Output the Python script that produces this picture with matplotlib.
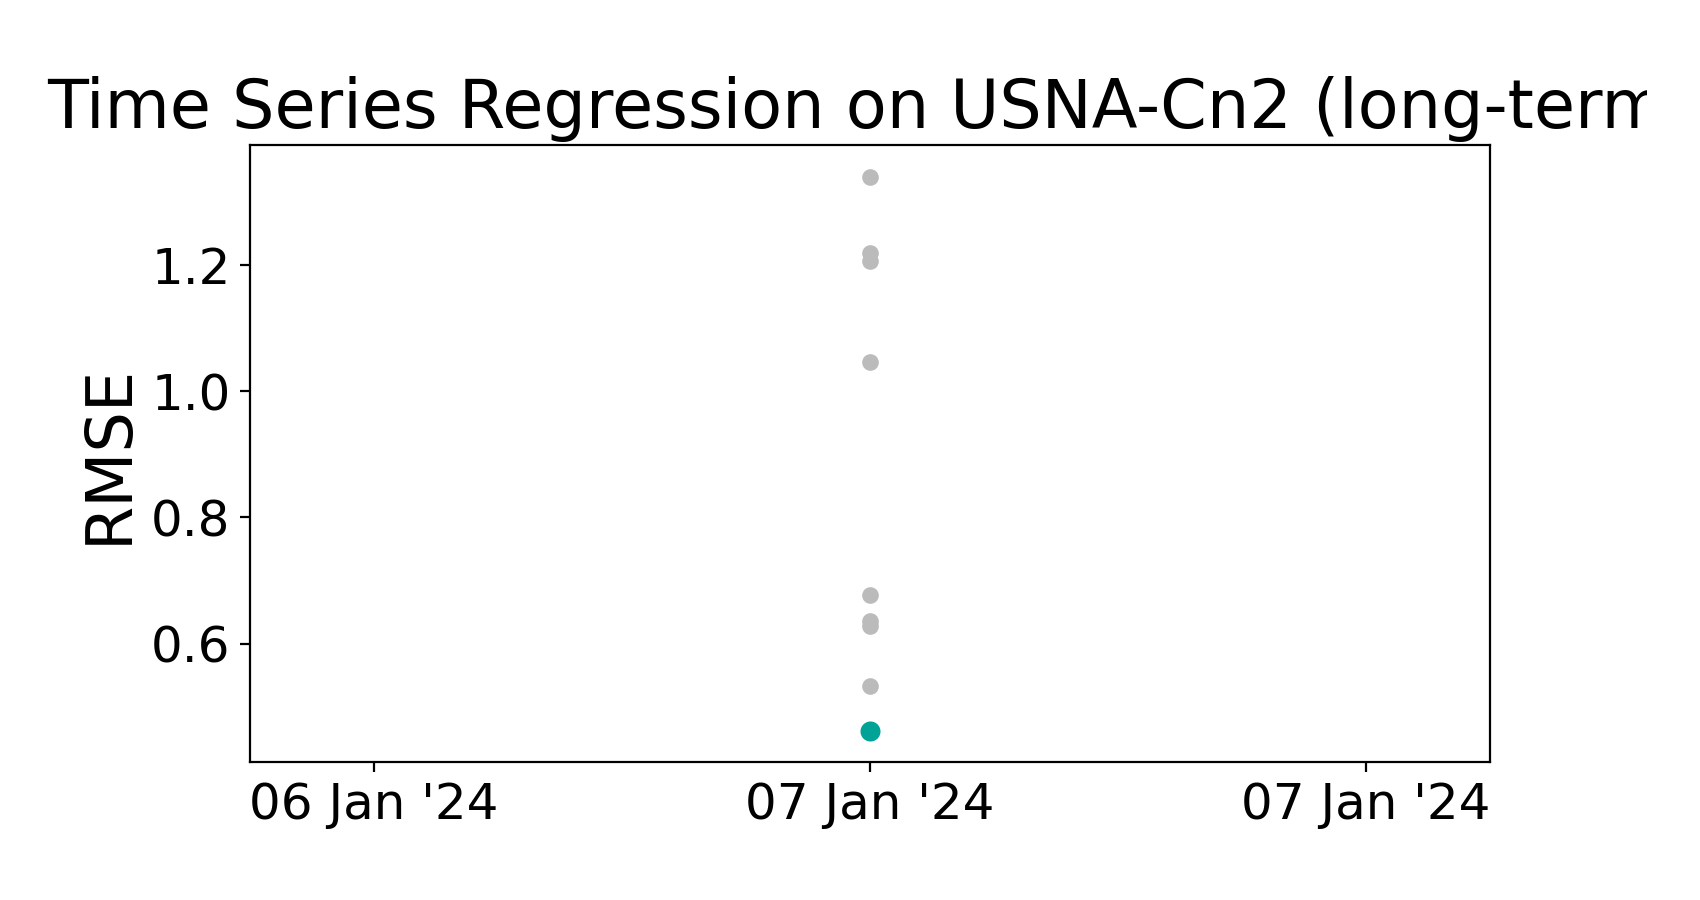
import matplotlib
matplotlib.use("Agg")
import matplotlib.pyplot as plt
import matplotlib.dates as mdates
from matplotlib.transforms import Bbox, TransformedBbox
import pandas as pd

# ---- data ----
run_dates = ["2024-01-07"] * 9
rmse = [1.340, 1.219, 1.207, 1.047, 0.677, 0.635, 0.627, 0.532, 0.461]
x_limits = ["2024-01-06 09:00", "2024-01-07 15:00"]
x_ticks = ["2024-01-06 12:00", "2024-01-07 00:00", "2024-01-07 12:00"]
y_limits = [0.412, 1.391]
y_ticks = [0.6, 0.8, 1.0, 1.2]
title = "Time Series Regression on USNA-Cn2 (long-term)"

GREY = "#BBBBBB"
TEAL = "#00A396"

dates = pd.to_datetime(run_dates)
best = min(range(len(rmse)), key=lambda i: rmse[i])
others = [i for i in range(len(rmse)) if i != best]

fig = plt.figure(figsize=(8.5, 4.5), dpi=200)
ax = fig.add_axes([250 / 1700, 1 - 762 / 900, 1240 / 1700, (762 - 145) / 900])

ax.scatter([dates[i] for i in others], [rmse[i] for i in others],
           s=36, color=GREY, zorder=2, linewidths=0)
ax.scatter([dates[best]], [rmse[best]], s=52, color=TEAL, zorder=3, linewidths=0)

ax.set_xlim(pd.to_datetime(x_limits[0]), pd.to_datetime(x_limits[1]))
ax.set_xticks(pd.to_datetime(x_ticks))
ax.xaxis.set_major_formatter(mdates.DateFormatter("%d %b '%y"))
ax.set_ylim(*y_limits)
ax.set_yticks(y_ticks)
ax.set_yticklabels([f"{v:.1f}" for v in y_ticks])
ax.tick_params(axis="both", labelsize=18)
ax.set_ylabel("RMSE", fontsize=23)

t = ax.set_title(title, fontsize=24.1)
clip = TransformedBbox(Bbox([[0, 0], [1647 / 1700, 1]]), fig.transFigure)
t.set_clip_box(clip)
t.set_clip_on(True)

fig.savefig("out.png", dpi=200)
